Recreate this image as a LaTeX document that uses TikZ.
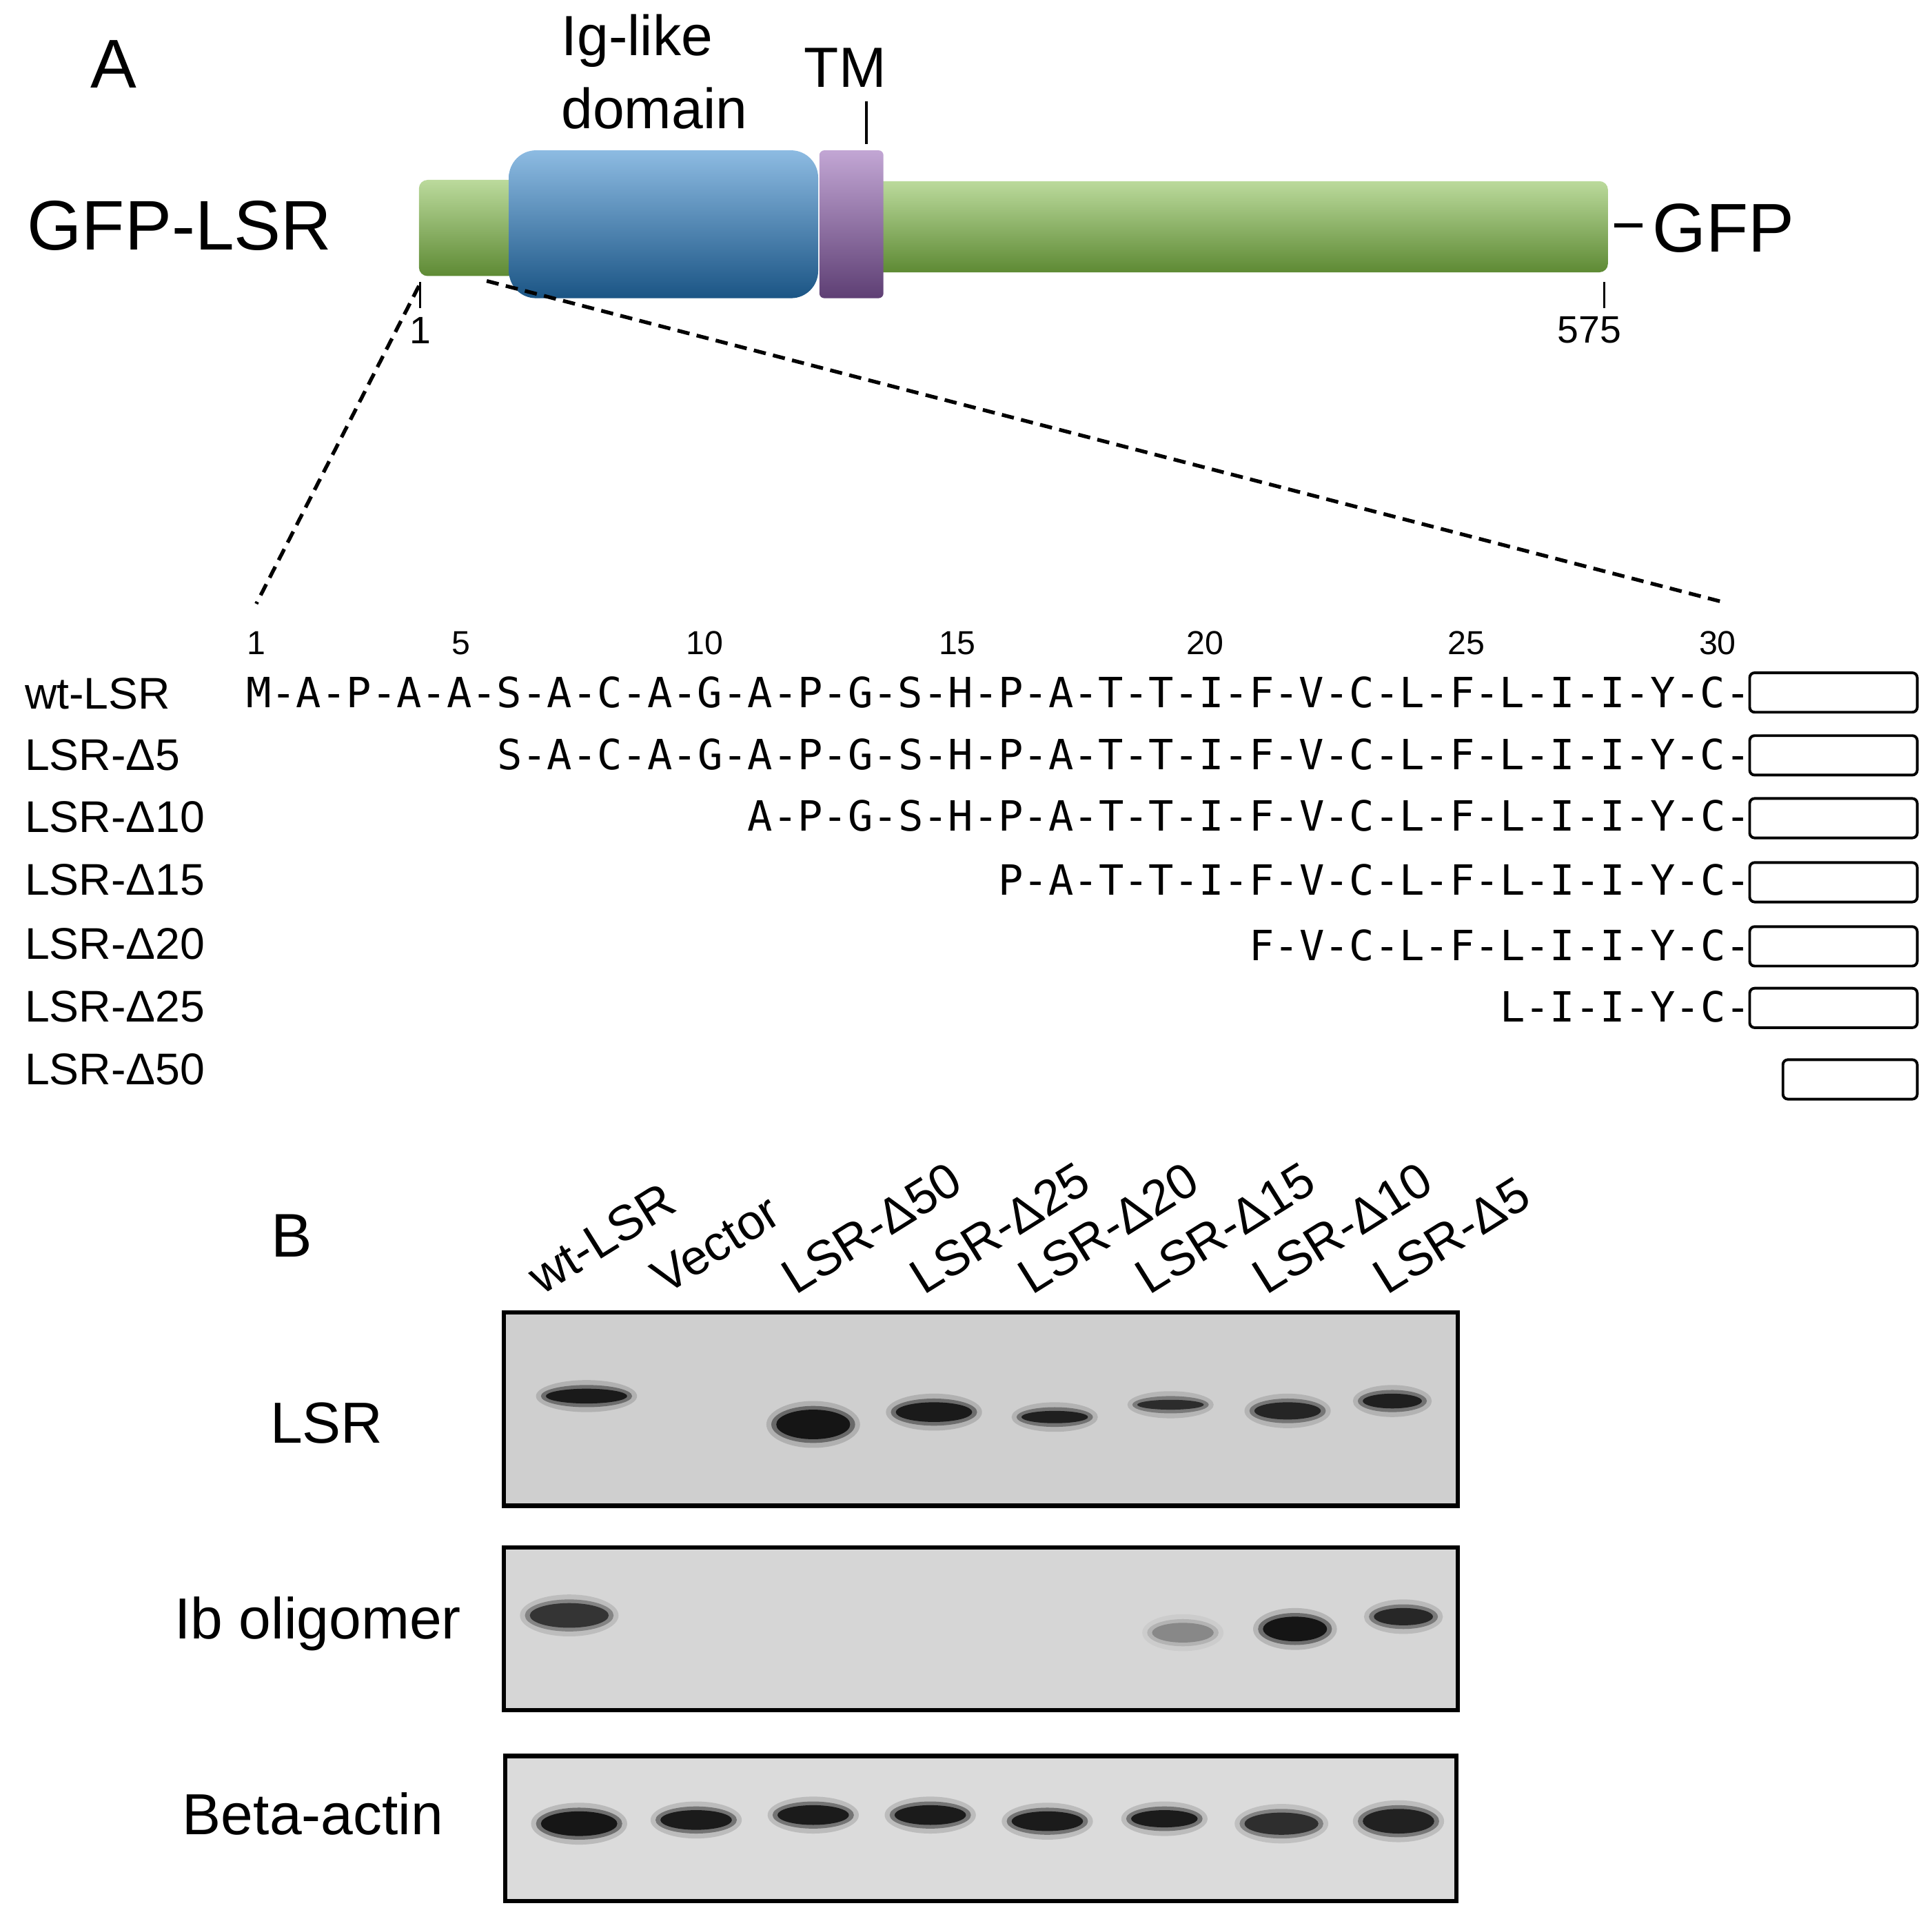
\documentclass[tikz,border=0pt]{standalone}
\usepackage{fontspec}
\setmainfont{Liberation Sans}
\newfontfamily\seqfont{DejaVu Sans Mono}
\newcommand\fsz[1]{\fontsize{#1}{#1}\selectfont}
\definecolor{gtop}{HTML}{BBDA9C}
\definecolor{gbot}{HTML}{5E8A34}
\definecolor{btop}{HTML}{8DBBE2}
\definecolor{bmid}{HTML}{2A7FBF}
\definecolor{bbot}{HTML}{1B5585}
\definecolor{ptop}{HTML}{C2A6D4}
\definecolor{pbot}{HTML}{5E3F74}
\begin{document}
\begin{tikzpicture}[x=1pt,y=-1pt,
  lab/.style={inner sep=0pt,font=\fsz{36}},
  seq/.style={inner sep=0pt,anchor=east,font=\seqfont\fsz{33.8}},
  numlab/.style={inner sep=0pt,font=\fsz{27}},
  gbox/.style={draw=black,line width=2.2pt,rounded corners=4pt,minimum width=136pt,minimum height=32pt,inner sep=0pt},
  panel/.style={draw=black,line width=3.5pt},
  lane/.style={inner sep=0pt,anchor=south west,rotate=32,font=\fsz{40}},
  plab/.style={inner sep=0pt,font=\fsz{47}},
  dashln/.style={line width=3pt,dash pattern=on 10pt off 6pt}]
\useasboundingbox (0,0) rectangle (1568,1557);
% ---- A ----
\node[inner sep=0pt,font=\fsz{56}] (A) at (92,52) {A};
\node[inner sep=0pt,font=\fsz{57},anchor=west] (gfplsr) at (22,183) {GFP-LSR};
\shade[top color=gtop,bottom color=gbot,rounded corners=7pt]
  (340,146) rectangle (430,224);
\shade[top color=gtop,bottom color=gbot,rounded corners=7pt]
  (705,147) rectangle (1305,221);
\shade[top color=btop,middle color=bmid,bottom color=bbot,rounded corners=22pt]
  (413,122) rectangle (664,242);
\shade[top color=ptop,bottom color=pbot,rounded corners=4pt]
  (665,122) rectangle (717,242);
\node[inner sep=0pt,font=\fsz{46}] (ig1) at (517,33) {Ig-like};
\node[inner sep=0pt,font=\fsz{46}] (ig2) at (531,88) {domain};
\node[inner sep=0pt,font=\fsz{46}] (tm) at (686,55) {TM};
\draw[line width=2pt] (703,82) -- (703,117);
\draw[line width=3pt] (1310,183) -- (1333,183);
\node[inner sep=0pt,font=\fsz{56},anchor=west] (gfp) at (1341,185) {GFP};
\draw[line width=2pt] (341,229) -- (341,250);
\draw[line width=2pt] (1302,229) -- (1302,250);
\node[numlab,font=\fsz{31}] (n1) at (341,268) {1};
\node[numlab,font=\fsz{31}] (n575) at (1290,268) {575};
\coordinate (d1) at (340,232); \coordinate (d2) at (208,490);
\coordinate (d3) at (395,228); \coordinate (d4) at (1396,488);
\draw[dashln] (d1) -- (d2);
\draw[dashln] (d3) -- (d4);
\foreach \n/\x in {1/208,5/374,10/572,15/777,20/978,25/1190,30/1394}
  \node[numlab] (p\n) at (\x,522) {\n};
% rows
\node[lab,anchor=west] (r0) at (20,563) {wt-LSR};
\node[lab,anchor=west] (r1) at (20,613) {LSR-Δ5};
\node[lab,anchor=west] (r2) at (20,663) {LSR-Δ10};
\node[lab,anchor=west] (r3) at (20,714) {LSR-Δ15};
\node[lab,anchor=west] (r4) at (20,766) {LSR-Δ20};
\node[lab,anchor=west] (r5) at (20,817) {LSR-Δ25};
\node[lab,anchor=west] (r6) at (20,868) {LSR-Δ50};
\node[seq] (s0) at (1421,562) {M-A-P-A-A-S-A-C-A-G-A-P-G-S-H-P-A-T-T-I-F-V-C-L-F-L-I-I-Y-C-};
\node[seq] (s1) at (1421,612) {S-A-C-A-G-A-P-G-S-H-P-A-T-T-I-F-V-C-L-F-L-I-I-Y-C-};
\node[seq] (s2) at (1421,662) {A-P-G-S-H-P-A-T-T-I-F-V-C-L-F-L-I-I-Y-C-};
\node[seq] (s3) at (1421,714) {P-A-T-T-I-F-V-C-L-F-L-I-I-Y-C-};
\node[seq] (s4) at (1421,767) {F-V-C-L-F-L-I-I-Y-C-};
\node[seq] (s5) at (1421,817) {L-I-I-Y-C-};
\node[gbox] (b0) at (1488,562) {};
\node[gbox] (b1) at (1488,613) {};
\node[gbox] (b2) at (1488,664) {};
\node[gbox] (b3) at (1488,716) {};
\node[gbox] (b4) at (1488,768) {};
\node[gbox] (b5) at (1488,818) {};
\node[gbox,minimum width=109pt] (b6) at (1501.5,876) {};
% ---- B ----
\node[inner sep=0pt,font=\fsz{50}] (B) at (237,1003) {B};
\node[lane] (l1) at (440,1052) {wt-LSR};
\node[lane] (l2) at (540,1052) {Vector};
\node[lane] (l3) at (646,1052) {LSR-Δ50};
\node[lane] (l4) at (750,1052) {LSR-Δ25};
\node[lane] (l5) at (838,1052) {LSR-Δ20};
\node[lane] (l6) at (933,1052) {LSR-Δ15};
\node[lane] (l7) at (1028,1052) {LSR-Δ10};
\node[lane] (l8) at (1126,1052) {LSR-Δ5};
\fill[black!19] (409,1065) rectangle (1183,1222);
\fill[black!16] (409,1256) rectangle (1183,1388);
\fill[black!14] (410,1425) rectangle (1182,1543);
\foreach \x/\y/\rx/\ry/\s in {
  476/1133/36/7/95, 660/1156/33/13/100, 758/1146/34/9/95, 856/1150/30/6/90,
  950/1140/30/5/80, 1045/1145/30/8/85, 1130/1137/27/7/90,
  462/1311/35/11/75, 960/1325/28/9/30, 1051/1322/29/11/100, 1139/1312/27/8/85,
  470/1480/34/11/100, 565/1477/32/9/95, 660/1473/32/9/95, 755/1473/32/9/95,
  850/1478/32/9/95, 945/1476/30/8/95, 1040/1480/33/10/80, 1135/1478/32/11/90}
{
  \fill[black,opacity=0.15*\s/100] (\x,\y) ellipse [x radius=\rx+5,y radius=\ry+6];
  \fill[black,opacity=0.4*\s/100] (\x,\y) ellipse [x radius=\rx+1,y radius=\ry+2];
  \fill[black,opacity=0.8*\s/100] (\x,\y) ellipse [x radius=\rx-3,y radius=\ry-1];
}
\draw[panel] (409,1065) rectangle (1183,1222);
\draw[panel] (409,1256) rectangle (1183,1388);
\draw[panel] (410,1425) rectangle (1182,1543);
\node[plab] (pl1) at (265,1155) {LSR};
\node[plab] (pl2) at (258,1318) {Ib oligomer};
\node[plab] (pl3) at (254,1472) {Beta-actin};
\end{tikzpicture}
\end{document}
